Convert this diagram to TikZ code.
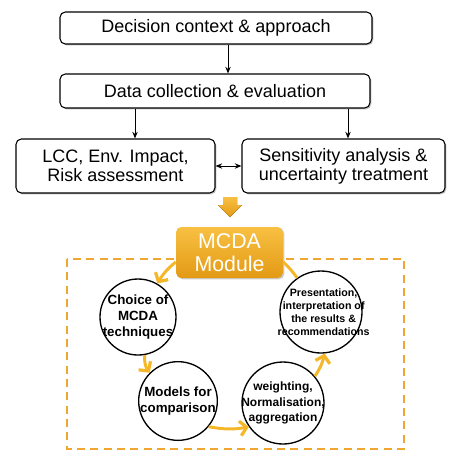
\documentclass[tikz,border=0pt]{standalone}
\usepackage{fontspec}
\setmainfont{Liberation Sans}
\usetikzlibrary{arrows.meta,shadows}
\definecolor{gold}{HTML}{F5B628}
\definecolor{dashor}{HTML}{F0A732}
\definecolor{mtop}{HTML}{F8C043}
\definecolor{mbot}{HTML}{E39A14}
\begin{document}
\begin{tikzpicture}[x=0.75pt,y=-0.75pt]
\useasboundingbox (0,0) rectangle (474,465);
\tikzset{
 box/.style={draw=black, line width=0.8pt, rounded corners=4pt, fill=white, align=center,
   font=\fontsize{13.5}{14.2}\selectfont, inner sep=0pt,
   drop shadow={shadow xshift=1pt,shadow yshift=-1pt,opacity=0.25,fill=black}},
 blk/.style={-{Stealth[length=5pt,width=4pt]}, line width=0.7pt},
 dblk/.style={{Stealth[length=5pt,width=4pt]}-{Stealth[length=5pt,width=4pt]}, line width=0.7pt},
 stage/.style={circle, draw=black, line width=1pt, fill=white, inner sep=0pt},
 stagetext/.style 2 args={align=center, font=\bfseries\fontsize{#1}{#2}\selectfont},
 cyc/.style={draw=gold, line width=2.2pt},
 cyca/.style={cyc, -{Straight Barb[length=5pt,width=11pt,line width=2.4pt]}},
 mcdabox/.style={rounded corners=4pt, top color=mtop, bottom color=mbot, draw=none,
   text=white, align=center, font=\fontsize{16}{17}\selectfont, inner sep=0pt,
   drop shadow={shadow xshift=1pt,shadow yshift=-1pt,opacity=0.2,fill=black}},
}
% top flow
\node[box, minimum width=234pt, minimum height=24pt] (ctx) at (216,28) {Decision context \& approach};
\node[box, minimum width=232.5pt, minimum height=25.5pt] (data) at (215,91) {Data collection \& evaluation};
\node[box, minimum width=149.25pt, minimum height=40.5pt] (lcc) at (115.5,166) {LCC, Env. Impact,\\Risk assessment};
\node[box, minimum width=152.25pt, minimum height=40.5pt] (sens) at (343.5,166) {Sensitivity analysis \&\\uncertainty treatment};
\draw[blk] (ctx.south -| 228,0) -- (data.north -| 228,0);
\draw[blk] (data.south -| 135,0) -- (lcc.north -| 135,0);
\draw[blk] (data.south -| 348,0) -- (sens.north -| 348,0);
\draw[dblk] (lcc.east) -- (sens.west);

% orange block arrow
\fill[top color=mtop, bottom color=mbot] (223,197) -- (237,197) -- (237,205) -- (242,205) -- (230,217) -- (218,205) -- (223,205) -- cycle;

% dashed frame
\draw[dashor, line width=1.3pt, dash pattern=on 6pt off 4pt] (67,259) rectangle (404,449);

% MCDA module
\node[mcdabox, minimum width=80.25pt, minimum height=38.25pt] (mcda) at (229.5,252.5) {MCDA\\Module};

% stages
\node[stage, minimum size=57pt] (choice) at (138,317) {};
\node[stage, minimum size=59pt] (models) at (178,401) {};
\node[stage, minimum size=61.5pt] (weight) at (283,403) {};
\node[stage, minimum size=61.5pt] (pres) at (321,312) {};
\node[stagetext={10}{12}] (choicet) at (choice.center) {Choice of\\MCDA\\techniques};
\node[stagetext={10}{11.5}] (modelst) at (models.center) {Models for\\comparison};
\node[stagetext={9}{11.5}] (weightt) at (weight.center) {weighting,\\Normalisation,\\aggregation};
\node[stagetext={8}{9.8}] (prest) at ([xshift=2pt]pres.center) {Presentation,\\interpretation of\\the results \&\\recommendations};

% cycle connectors
\draw[cyca] (mcda.190) to[bend right=10] (choice.60);
\draw[cyca] (choice.-80) to[bend right=20] (models.135);
\draw[cyca] (models.-40) to[bend right=10] (weight.215);
\draw[cyca] (weight.40) to[bend right=10] (pres.-85);
\draw[cyc] (pres.125) to[bend right=5] (mcda.-10);
\end{tikzpicture}
\end{document}
